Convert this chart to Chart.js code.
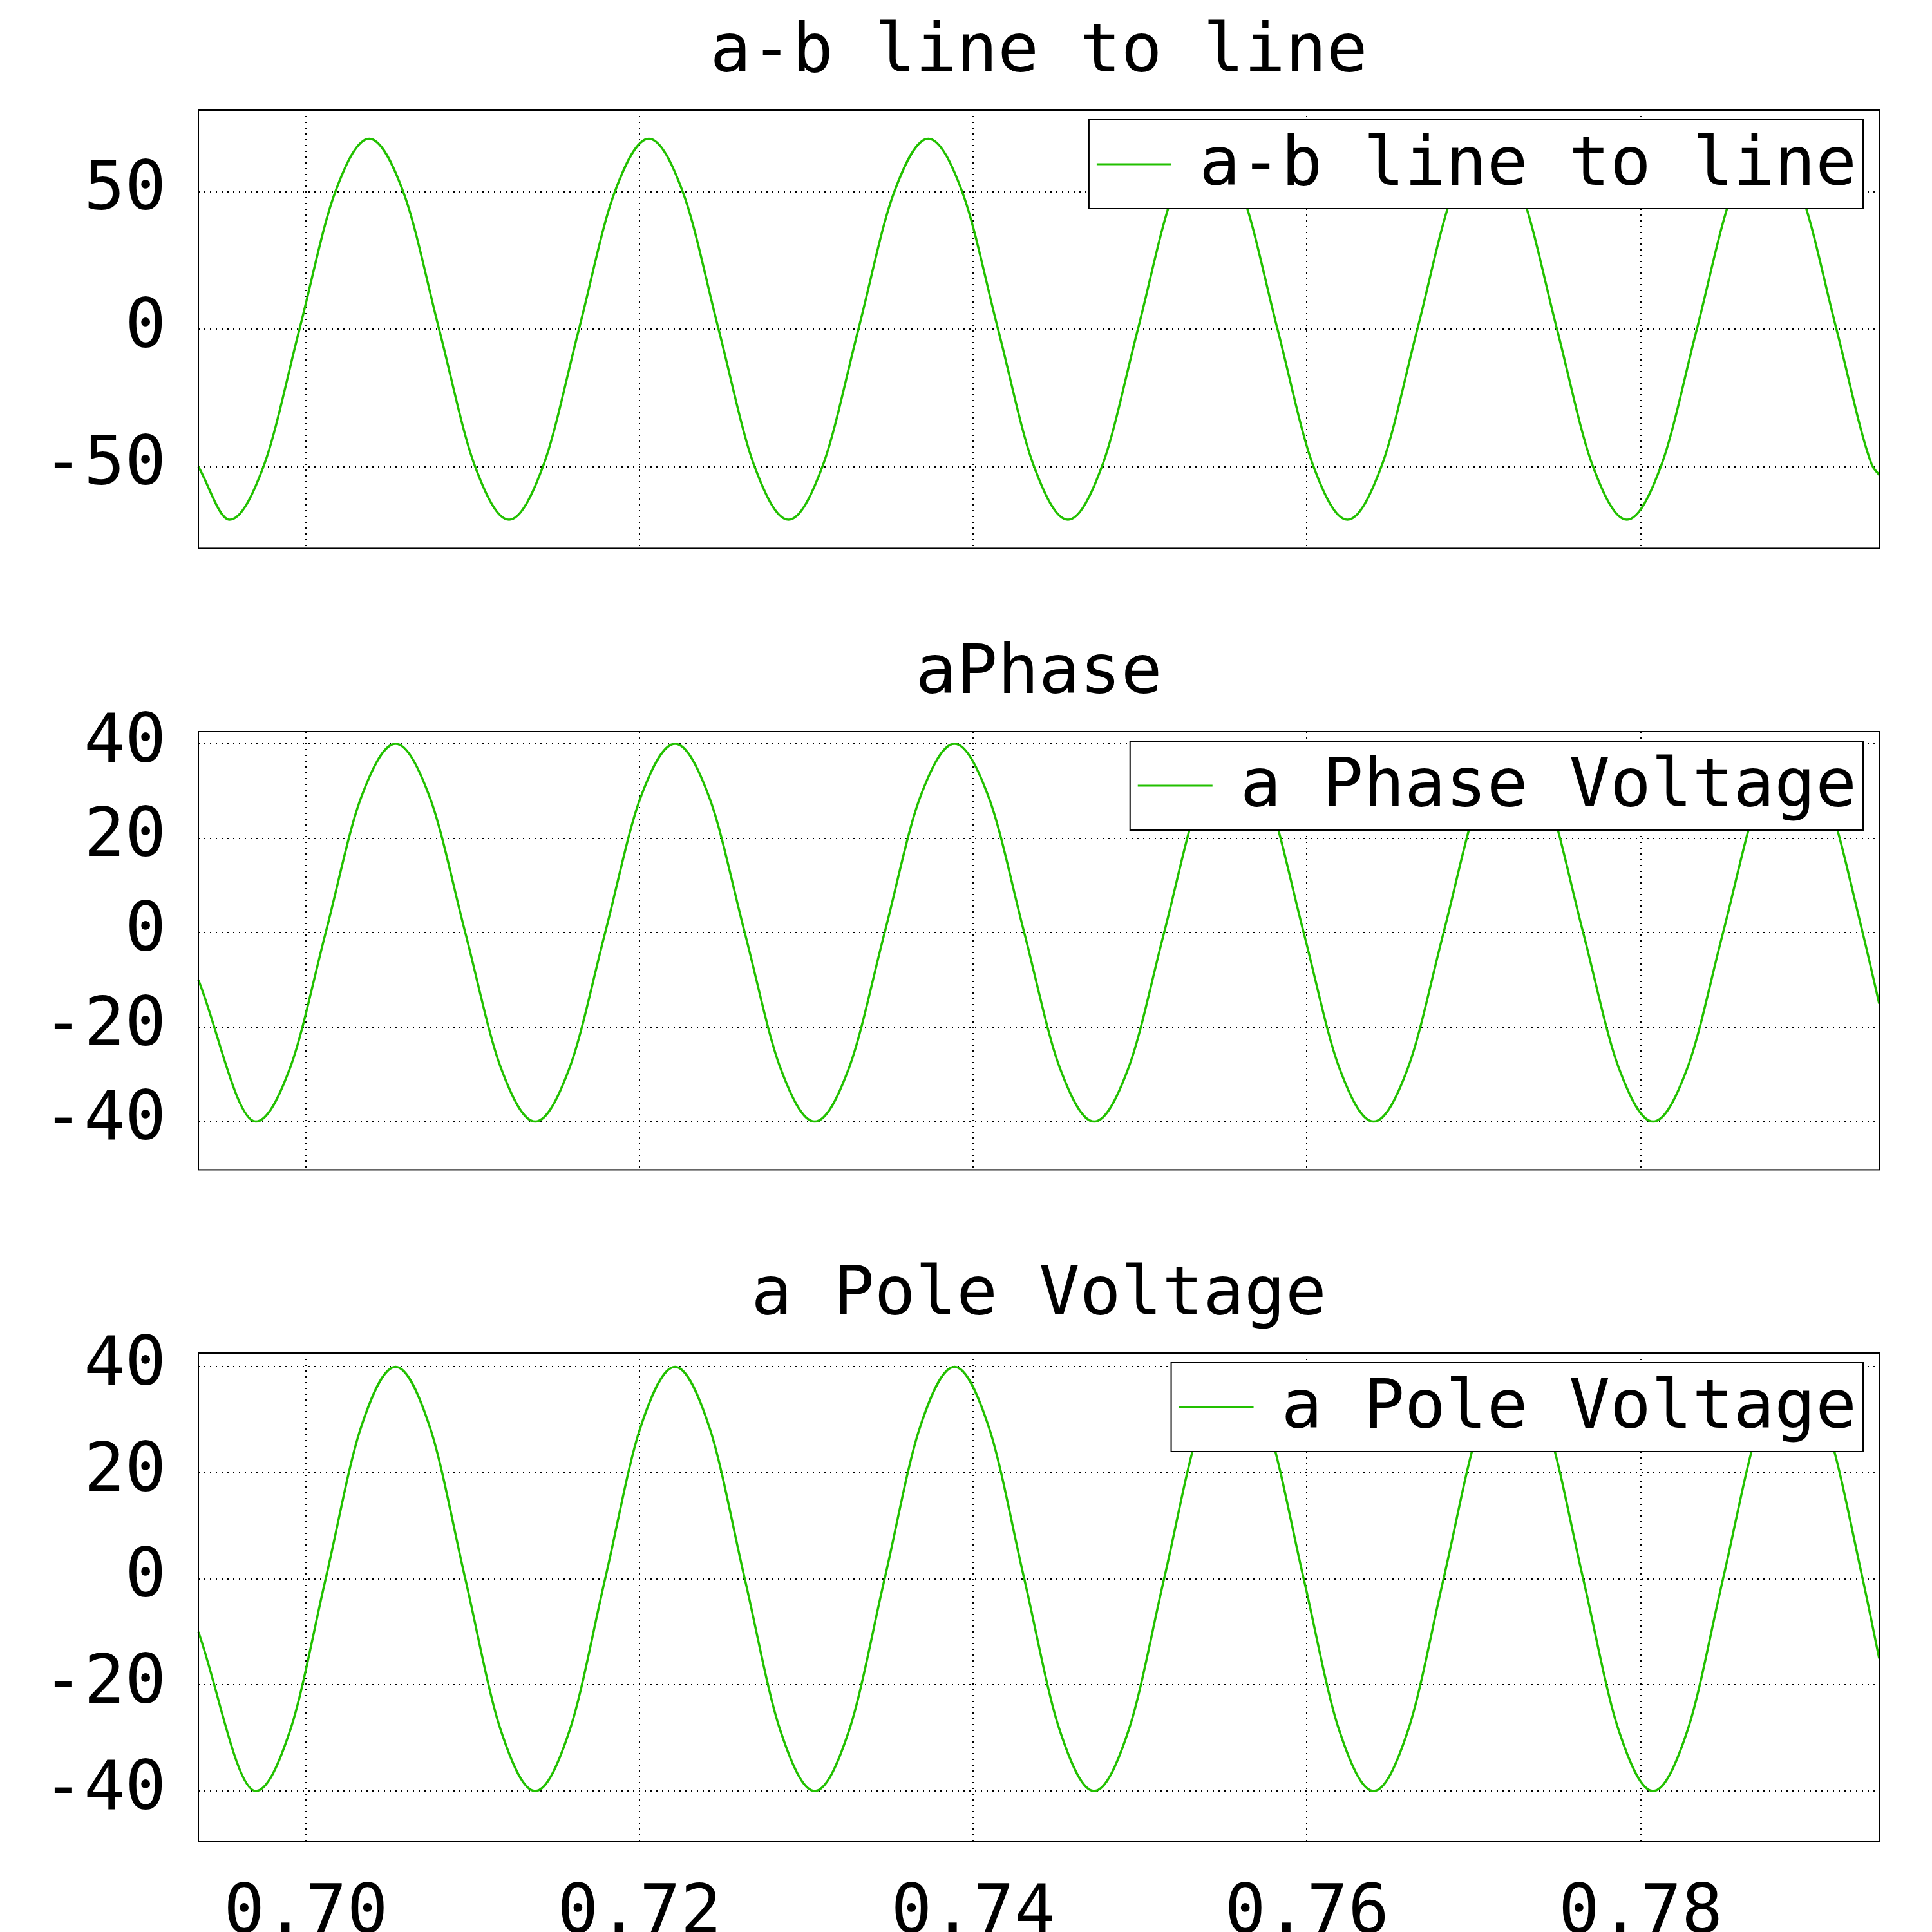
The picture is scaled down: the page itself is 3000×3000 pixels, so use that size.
<!DOCTYPE html>
<html>
<head>
<meta charset="utf-8">
<script src="https://cdn.jsdelivr.net/npm/chart.js@4.4.1/dist/chart.umd.min.js"></script>
<style>
  html, body { margin: 0; padding: 0; background: #fff; }
  #wrap { position: relative; width: 3000px; height: 3000px; }
  .panel { position: absolute; left: 0; }
</style>
</head>
<body>
<div id="wrap">
  <div class="panel" style="top:0;width:3000px;height:965px"><canvas id="c1"></canvas></div>
  <div class="panel" style="top:965px;width:3000px;height:965px"><canvas id="c2"></canvas></div>
  <div class="panel" style="top:1930px;width:3000px;height:1070px"><canvas id="c3"></canvas></div>
</div>
<script>
// x range and ticks
const xMin = 0.69356;
const xMax = 0.7943;
const xTicks = [0.70, 0.72, 0.74, 0.76, 0.78];

// a-b line to line
const abTime = [0.69356,
  0.69543, 0.69752, 0.69962, 0.70171, 0.70380, 0.70590, 0.70799, 0.71009,
  0.71218, 0.71427, 0.71637, 0.71846, 0.72056, 0.72265, 0.72474, 0.72684,
  0.72893, 0.73102, 0.73312, 0.73521, 0.73731, 0.73940, 0.74149, 0.74359,
  0.74568, 0.74777, 0.74987, 0.75196, 0.75406, 0.75615, 0.75824, 0.76034,
  0.76243, 0.76452, 0.76662, 0.76871, 0.77081, 0.77290, 0.77499, 0.77709,
  0.77918, 0.78127, 0.78337, 0.78546, 0.78756, 0.78965, 0.79174, 0.79384,
  0.7943];
const abValues = [-50,
  -69.3, -49, 0, 49, 69.3, 49, 0, -49,
  -69.3, -49, 0, 49, 69.3, 49, 0, -49,
  -69.3, -49, 0, 49, 69.3, 49, 0, -49,
  -69.3, -49, 0, 49, 69.3, 49, 0, -49,
  -69.3, -49, 0, 49, 69.3, 49, 0, -49,
  -69.3, -49, 0, 49, 69.3, 49, 0, -49,
  -53];

// a phase / a pole voltage
const phaseTime = [0.69356,
  0.69700, 0.69909, 0.70119, 0.70328, 0.70538, 0.70747, 0.70956, 0.71166,
  0.71375, 0.71584, 0.71794, 0.72003, 0.72213, 0.72422, 0.72631, 0.72841,
  0.73050, 0.73259, 0.73469, 0.73678, 0.73888, 0.74097, 0.74306, 0.74516,
  0.74725, 0.74934, 0.75144, 0.75353, 0.75563, 0.75772, 0.75981, 0.76191,
  0.76400, 0.76609, 0.76819, 0.77028, 0.77238, 0.77447, 0.77656, 0.77866,
  0.78075, 0.78284, 0.78494, 0.78704, 0.78913, 0.79122, 0.79331,
  0.7943];
const phaseValues = [-10,
  -40, -28.3, 0, 28.3, 40, 28.3, 0, -28.3,
  -40, -28.3, 0, 28.3, 40, 28.3, 0, -28.3,
  -40, -28.3, 0, 28.3, 40, 28.3, 0, -28.3,
  -40, -28.3, 0, 28.3, 40, 28.3, 0, -28.3,
  -40, -28.3, 0, 28.3, 40, 28.3, 0, -28.3,
  -40, -28.3, 0, 28.3, 40, 28.3, 0,
  -15];
const poleValues = phaseValues.slice();

const FONT = "'DejaVu Sans Mono', monospace";
const GREEN = "#22c000";

function framePlugin(title, legendText) {
  return {
    id: "frame",
    afterDraw(chart) {
      const { ctx, chartArea: a } = chart;
      ctx.save();
      ctx.strokeStyle = "#000";
      ctx.lineWidth = 2;
      ctx.strokeRect(a.left, a.top, a.right - a.left, a.bottom - a.top);

      ctx.fillStyle = "#000";
      ctx.font = "106px " + FONT;
      ctx.textAlign = "center";
      ctx.textBaseline = "middle";
      ctx.fillText(title, (a.left + a.right) / 2, a.top - 88);

      // legend
      const tw = ctx.measureText(legendText).width;
      const textRight = a.right - 35;
      const textLeft = textRight - tw;
      const boxL = textLeft - 171, boxR = a.right - 25;
      const boxT = a.top + 15, boxB = a.top + 153;
      ctx.fillStyle = "#fff";
      ctx.fillRect(boxL, boxT, boxR - boxL, boxB - boxT);
      ctx.strokeRect(boxL, boxT, boxR - boxL, boxB - boxT);
      ctx.strokeStyle = GREEN;
      ctx.lineWidth = 3;
      ctx.beginPath();
      ctx.moveTo(boxL + 12, (boxT + boxB) / 2);
      ctx.lineTo(boxL + 128, (boxT + boxB) / 2);
      ctx.stroke();
      ctx.fillStyle = "#000";
      ctx.textAlign = "left";
      ctx.fillText(legendText, textLeft, (boxT + boxB) / 2 + 4);
      ctx.restore();
    },
  };
}

function makeChart(id, times, values, yMin, yMax, yStep, title, legendText, showX, bottomPad) {
  const points = times.map((t, i) => ({ x: t, y: values[i] }));
  const grid = {
    color: "#000",
    lineWidth: 2,
    drawTicks: false,
  };
  const border = { display: false, dash: [2, 7] };
  return new Chart(document.getElementById(id), {
    type: "line",
    data: {
      datasets: [{
        data: points,
        borderColor: GREEN,
        borderWidth: 3.5,
        pointRadius: 0,
        cubicInterpolationMode: "monotone",
        clip: 2,
      }],
    },
    options: {
      animation: false,
      responsive: true,
      maintainAspectRatio: false,
      devicePixelRatio: 1,
      layout: { padding: { top: 171, right: 82, left: 0, bottom: bottomPad } },
      scales: {
        x: {
          type: "linear",
          min: xMin,
          max: xMax,
          border: border,
          grid: grid,
          afterBuildTicks: (s) => { s.ticks = xTicks.map((v) => ({ value: v })); },
          afterFit: (s) => { s.height = showX ? 140 : 0; },
          ticks: {
            display: showX,
            padding: 50,
            maxRotation: 0,
            font: { family: FONT, size: 106 },
            color: "#000",
            callback: (v) => v.toFixed(2),
          },
        },
        y: {
          min: yMin,
          max: yMax,
          border: border,
          grid: grid,
          afterBuildTicks: (s) => {
            const t = [];
            for (let v = Math.ceil(yMin / yStep) * yStep; v <= yMax; v += yStep) t.push({ value: v });
            s.ticks = t;
          },
          afterFit: (s) => { s.width = 308; },
          ticks: {
            padding: 50,
            font: { family: FONT, size: 106 },
            color: "#000",
          },
        },
      },
      plugins: { legend: { display: false }, tooltip: { enabled: false } },
    },
    plugins: [framePlugin(title, legendText)],
  });
}

makeChart("c1", abTime, abValues, -79.7, 79.7, 50, "a-b line to line", "a-b line to line", false, -26);
makeChart("c2", phaseTime, phaseValues, -50.2, 42.6, 20, "aPhase", "a Phase Voltage", false, -26);
makeChart("c3", phaseTime, poleValues, -49.6, 42.6, 20, "a Pole Voltage", "a Pole Voltage", true, 0);
</script>
</body>
</html>
